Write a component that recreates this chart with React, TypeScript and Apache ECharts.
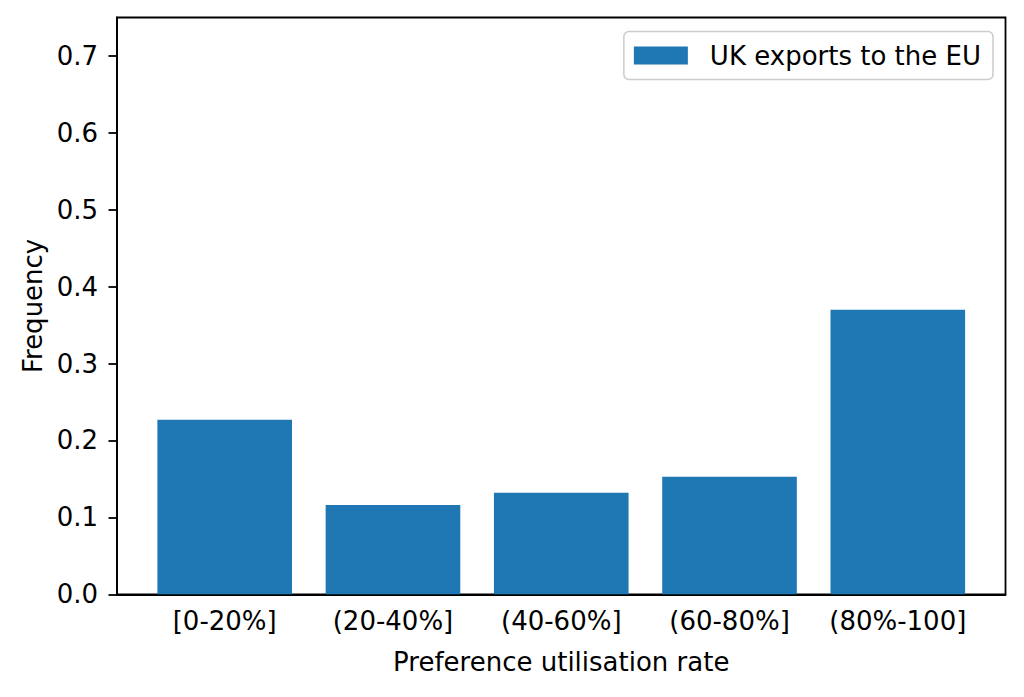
import React, { useEffect, useRef } from 'react';
import * as echarts from 'echarts';

// categories on the x axis
const categories = ['[0-20%]', '(20-40%]', '(40-60%]', '(60-80%]', '(80%-100]'];
// share of tariff lines in each utilisation band
const frequencies = [0.227, 0.116, 0.132, 0.153, 0.37];
const yTicks = [0, 0.1, 0.2, 0.3, 0.4, 0.5, 0.6, 0.7];
const seriesName = 'UK exports to the EU';

const FONT = 'DejaVu Sans';
const FS = 26;

const App: React.FC = () => {
  const chartRef = useRef<HTMLDivElement>(null);

  useEffect(() => {
    if (!chartRef.current) return;
    const chart = echarts.init(chartRef.current, undefined, { renderer: 'svg' });

    const option = {
      animation: false,
      textStyle: { fontFamily: FONT, color: '#000' },
      grid: {
        left: 117,
        right: 18.5,
        top: 17.5,
        bottom: 102.7,
        show: true,
        borderColor: '#000',
        borderWidth: 1.8,
        backgroundColor: 'transparent',
      },
      legend: {
        data: [seriesName],
        right: 31,
        top: 31.5,
        icon: 'rect',
        itemWidth: 54,
        itemHeight: 18,
        padding: [11, 12, 11, 10],
        borderColor: '#cccccc',
        borderWidth: 1.5,
        borderRadius: 5,
        backgroundColor: '#fff',
        textStyle: {
          fontFamily: FONT,
          fontSize: FS,
          color: '#000',
          lineHeight: 26,
          padding: [0, 0, 0, 17],
        },
      },
      xAxis: {
        type: 'value',
        min: -0.64,
        max: 4.64,
        name: 'Preference utilisation rate',
        nameLocation: 'middle',
        nameGap: 55,
        nameTextStyle: { fontFamily: FONT, fontSize: FS, color: '#000' },
        axisLine: { show: true, onZero: false, lineStyle: { color: '#000', width: 1.8 } },
        axisTick: { show: false },
        splitLine: { show: false },
        axisLabel: {
          customValues: categories.map((_, i) => i),
          formatter: (v: number) => categories[Math.round(v)] ?? '',
          fontFamily: FONT,
          fontSize: FS,
          color: '#000',
          margin: 14,
        },
      },
      yAxis: {
        type: 'value',
        min: 0,
        max: 0.75,
        name: 'Frequency',
        nameLocation: 'middle',
        nameGap: 69,
        nameTextStyle: { fontFamily: FONT, fontSize: FS, color: '#000' },
        axisLine: { show: true, onZero: false, lineStyle: { color: '#000', width: 1.8 } },
        axisTick: {
          show: true,
          length: 8.5,
          customValues: yTicks,
          lineStyle: { color: '#000', width: 1.8 },
        },
        splitLine: { show: false },
        axisLabel: {
          customValues: yTicks,
          formatter: (v: number) => v.toFixed(1),
          fontFamily: FONT,
          fontSize: FS,
          color: '#000',
          margin: 19,
        },
      },
      series: [
        {
          name: seriesName,
          type: 'bar',
          barWidth: '80%',
          itemStyle: { color: '#1f77b4' },
          data: frequencies.map((v, i) => [i, v]),
        },
      ],
    };

    chart.setOption(option);
    return () => chart.dispose();
  }, []);

  return (
    <div
      ref={chartRef}
      style={{ position: 'fixed', left: 0, top: 0, width: 1024, height: 697, background: '#fff' }}
    />
  );
};

export default App;
